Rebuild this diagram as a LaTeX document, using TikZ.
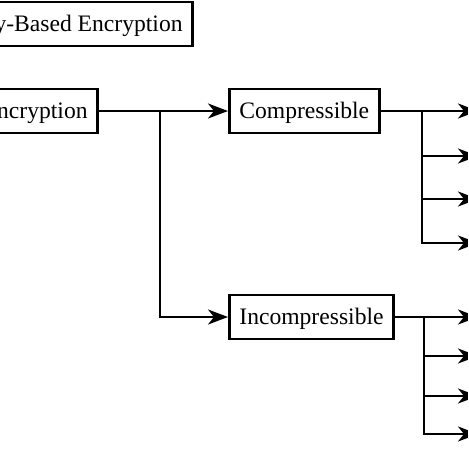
\documentclass[tikz,border=0pt]{standalone}
\usepackage{fontspec}
\setmainfont{Liberation Serif}
\usetikzlibrary{arrows.meta}
\tikzset{
	box/.style={draw, line width=1.4pt, inner xsep=5pt, minimum height=22pt, text depth=0.5pt, font=\fontsize{11.8}{13}\selectfont},
	arr/.style={line width=1.2pt, -{Stealth[length=10pt, width=7.5pt, inset=3pt]}},
	ln/.style={line width=1.2pt}
}
\begin{document}
\begin{tikzpicture}[x=0.5pt, y=-0.5pt]
	\clip (0,0) rectangle (468,468);
	\node [box, anchor=east] (kbe) at (194,24) {y-Based Encryption};
	\node [box, anchor=east] (enc) at (99,111) {Encryption};
	\node [box, anchor=west] (comp) at (228,111) {Compressible};
	\node [box, anchor=west] (incomp) at (228,317) {Incompressible};
	\coordinate (split) at (160,111);
	\coordinate (csplit) at (422,111);
	\coordinate (isplit) at (424,317);
	\foreach \y [count=\i] in {111,156,199,243} \coordinate (cout\i) at (478,\y);
	\foreach \y [count=\i] in {317,356,396,434} \coordinate (iout\i) at (478,\y);
	\draw [arr] (enc.east) -- (comp.west);
	\draw [arr] (split) |- (incomp.west);
	\draw [ln] (comp.east) -- (csplit);
	\draw [ln] (incomp.east) -- (isplit);
	\foreach \i in {1,...,4} {
		\draw [arr] (csplit) |- (cout\i);
		\draw [arr] (isplit) |- (iout\i);
	}
\end{tikzpicture}
\end{document}
